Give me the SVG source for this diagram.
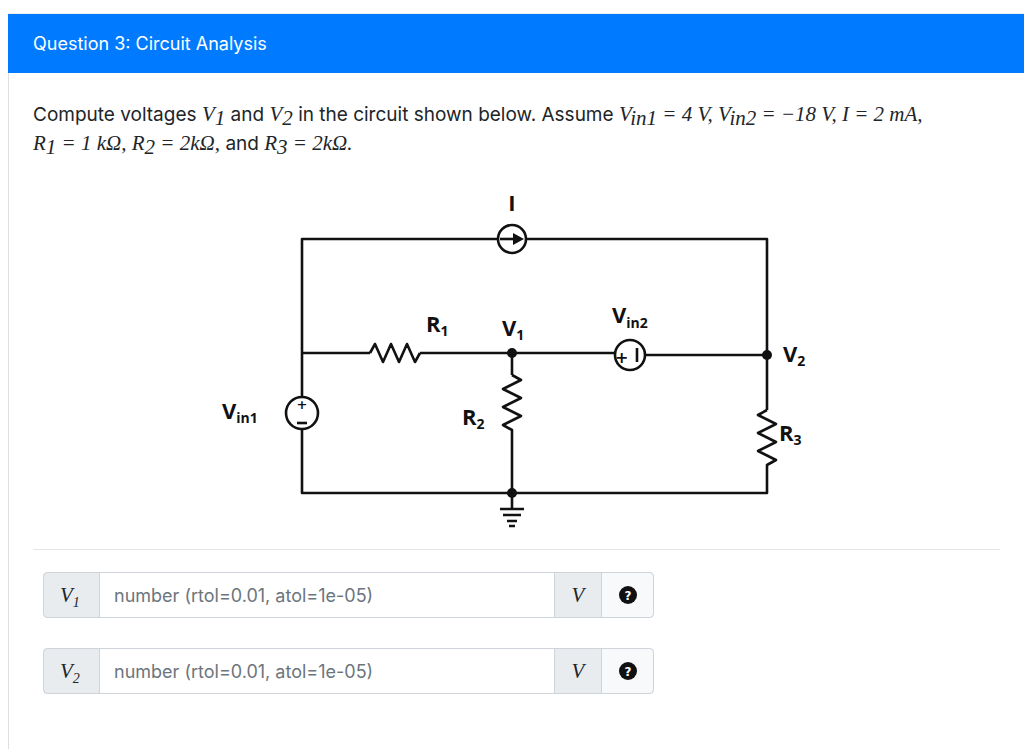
<svg xmlns="http://www.w3.org/2000/svg" width="1024" height="749" viewBox="0 0 1024 749">
<style>
.w{fill:none;stroke:#111;stroke-width:2.6;stroke-linejoin:round}
.lb{font-family:"Open Sans","DejaVu Sans",sans-serif;font-weight:bold;font-size:22px;fill:#111}
.sb{font-size:14px}
.t{font-family:Inter,"Liberation Sans",sans-serif;font-size:19px;fill:#212529}
.m{font-family:"Liberation Serif",serif;font-style:italic;font-size:21px;fill:#212529}
.ph{font-family:Inter,"Liberation Sans",sans-serif;font-size:18px;fill:#6c757d}
.box{fill:#e9ecef;stroke:#ced4da}
</style>
<rect width="1024" height="749" fill="#fff"/>
<rect x="8.5" y="14" width="1020" height="740" fill="#fff" stroke="#dfdfdf"/>
<rect x="8" y="14" width="1016" height="59" fill="#007bff"/>
<text x="33" y="50" font-family="Inter,'Liberation Sans',sans-serif" font-size="18" fill="#fff">Question 3: Circuit Analysis</text>
<text class="t" x="33" y="121">Compute voltages <tspan class="m">V</tspan><tspan class="m" font-size="13" dy="4">1</tspan><tspan dy="-4"> and </tspan><tspan class="m">V</tspan><tspan class="m" font-size="13" dy="4">2</tspan><tspan dy="-4"> in the circuit shown below. Assume </tspan><tspan class="m">V</tspan><tspan class="m" font-size="14" dy="4">in1</tspan><tspan class="m" dy="-4"> = 4 V, V</tspan><tspan class="m" font-size="14" dy="4">in2</tspan><tspan class="m" dy="-4"> = −18 V, I = 2 mA,</tspan></text>
<text class="t" x="33" y="150"><tspan class="m">R</tspan><tspan class="m" font-size="13" dy="4">1</tspan><tspan class="m" dy="-4"> = 1 kΩ, R</tspan><tspan class="m" font-size="13" dy="4">2</tspan><tspan class="m" dy="-4"> = 2kΩ,</tspan> and <tspan class="m">R</tspan><tspan class="m" font-size="13" dy="4">3</tspan><tspan class="m" dy="-4"> = 2kΩ.</tspan></text>
<g id="connectors">
<path class="w" d="M302 353 V239 H498 M526 239 H767 V410 M767 470 V493 H302 V429 M302 397 V353 H370 M420 353 H512 M512 353 V375 M512 440 V493 M512 353 H615 M645 355 H767 M512 493 V508"/>
</g>
<g id="R1"><path class="w" d="M370 353 l5 -9 l8 18 l8 -18 l8 18 l8 -18 l8 18 l5 -9"/><text class="lb" x="426" y="332">R<tspan class="sb" dy="4">1</tspan></text></g>
<g id="R2"><path class="w" d="M512 375 l9 5 l-18 9 l18 9 l-18 9 l18 9 l-18 9 l9 5 V440"/><text class="lb" x="462" y="425">R<tspan class="sb" dy="4">2</tspan></text></g>
<g id="R3"><path class="w" d="M767 410 l-9 5 l18 9 l-18 9 l18 9 l-18 9 l18 9 l-9 5 V470"/><text class="lb" x="779" y="441">R<tspan class="sb" dy="4">3</tspan></text></g>
<g id="I"><circle class="w" cx="512" cy="239" r="14"/><path d="M500 239 H515" class="w"/><path d="M524 239 l-11 -6 v12z" fill="#111"/><text class="lb" x="512" y="211" text-anchor="middle">I</text></g>
<g id="Vin2"><circle class="w" cx="630" cy="355" r="15"/><text x="615" y="363" font-family="'DejaVu Sans',sans-serif" font-weight="bold" font-size="16" fill="#111">+</text><path class="w" d="M637 348 V362"/><text class="lb" x="612" y="323">V<tspan class="sb" dy="5">in2</tspan></text></g>
<g id="Vin1"><circle class="w" cx="302" cy="413" r="16"/><text x="302" y="409" text-anchor="middle" font-family="'DejaVu Sans',sans-serif" font-weight="bold" font-size="13" fill="#111">+</text><path class="w" d="M297 423 H307"/><text class="lb" x="222" y="419">V<tspan class="sb" dy="4">in1</tspan></text></g>
<g id="V1"><circle cx="512" cy="353" r="5" fill="#111"/><text class="lb" x="502" y="336">V<tspan class="sb" dy="4">1</tspan></text></g>
<g id="V2"><circle cx="767" cy="355" r="5" fill="#111"/><text class="lb" x="783" y="362">V<tspan class="sb" dy="4">2</tspan></text></g>
<g id="gnd"><circle cx="512" cy="493" r="5" fill="#111"/><path class="w" d="M500 509 H524 M503 515 H521 M507 521 H517 M509 526 H515"/></g>
<path d="M33 549.5 H1000" stroke="#e5e5e5"/>
<g id="in1">
<rect x="43.5" y="572.5" width="610" height="45" rx="4" fill="#fff" stroke="#ced4da"/>
<path class="box" d="M47.5 572.5 H99.5 V617.5 H47.5 a4 4 0 0 1 -4 -4 V576.5 a4 4 0 0 1 4 -4z"/>
<rect class="box" x="554.5" y="572.5" width="47" height="45"/>
<path d="M601.5 572.5 H649.5 a4 4 0 0 1 4 4 V613.5 a4 4 0 0 1 -4 4 H601.5z" fill="#f8f9fa" stroke="#ced4da"/>
<text class="m" x="60" y="602">V<tspan font-size="14" dy="5">1</tspan></text>
<text class="ph" x="114" y="602">number (rtol=0.01, atol=1e-05)</text>
<text class="m" x="578" y="602" text-anchor="middle">V</text>
<circle cx="628" cy="595" r="9" fill="#111"/><text x="628" y="600" text-anchor="middle" font-family="'DejaVu Sans',sans-serif" font-weight="bold" font-size="12" fill="#fff">?</text>
</g>
<g id="in2">
<rect x="43.5" y="648.5" width="610" height="45" rx="4" fill="#fff" stroke="#ced4da"/>
<path class="box" d="M47.5 648.5 H99.5 V693.5 H47.5 a4 4 0 0 1 -4 -4 V652.5 a4 4 0 0 1 4 -4z"/>
<rect class="box" x="554.5" y="648.5" width="47" height="45"/>
<path d="M601.5 648.5 H649.5 a4 4 0 0 1 4 4 V689.5 a4 4 0 0 1 -4 4 H601.5z" fill="#f8f9fa" stroke="#ced4da"/>
<text class="m" x="60" y="678">V<tspan font-size="14" dy="5">2</tspan></text>
<text class="ph" x="114" y="678">number (rtol=0.01, atol=1e-05)</text>
<text class="m" x="578" y="678" text-anchor="middle">V</text>
<circle cx="628" cy="671" r="9" fill="#111"/><text x="628" y="676" text-anchor="middle" font-family="'DejaVu Sans',sans-serif" font-weight="bold" font-size="12" fill="#fff">?</text>
</g>
</svg>
